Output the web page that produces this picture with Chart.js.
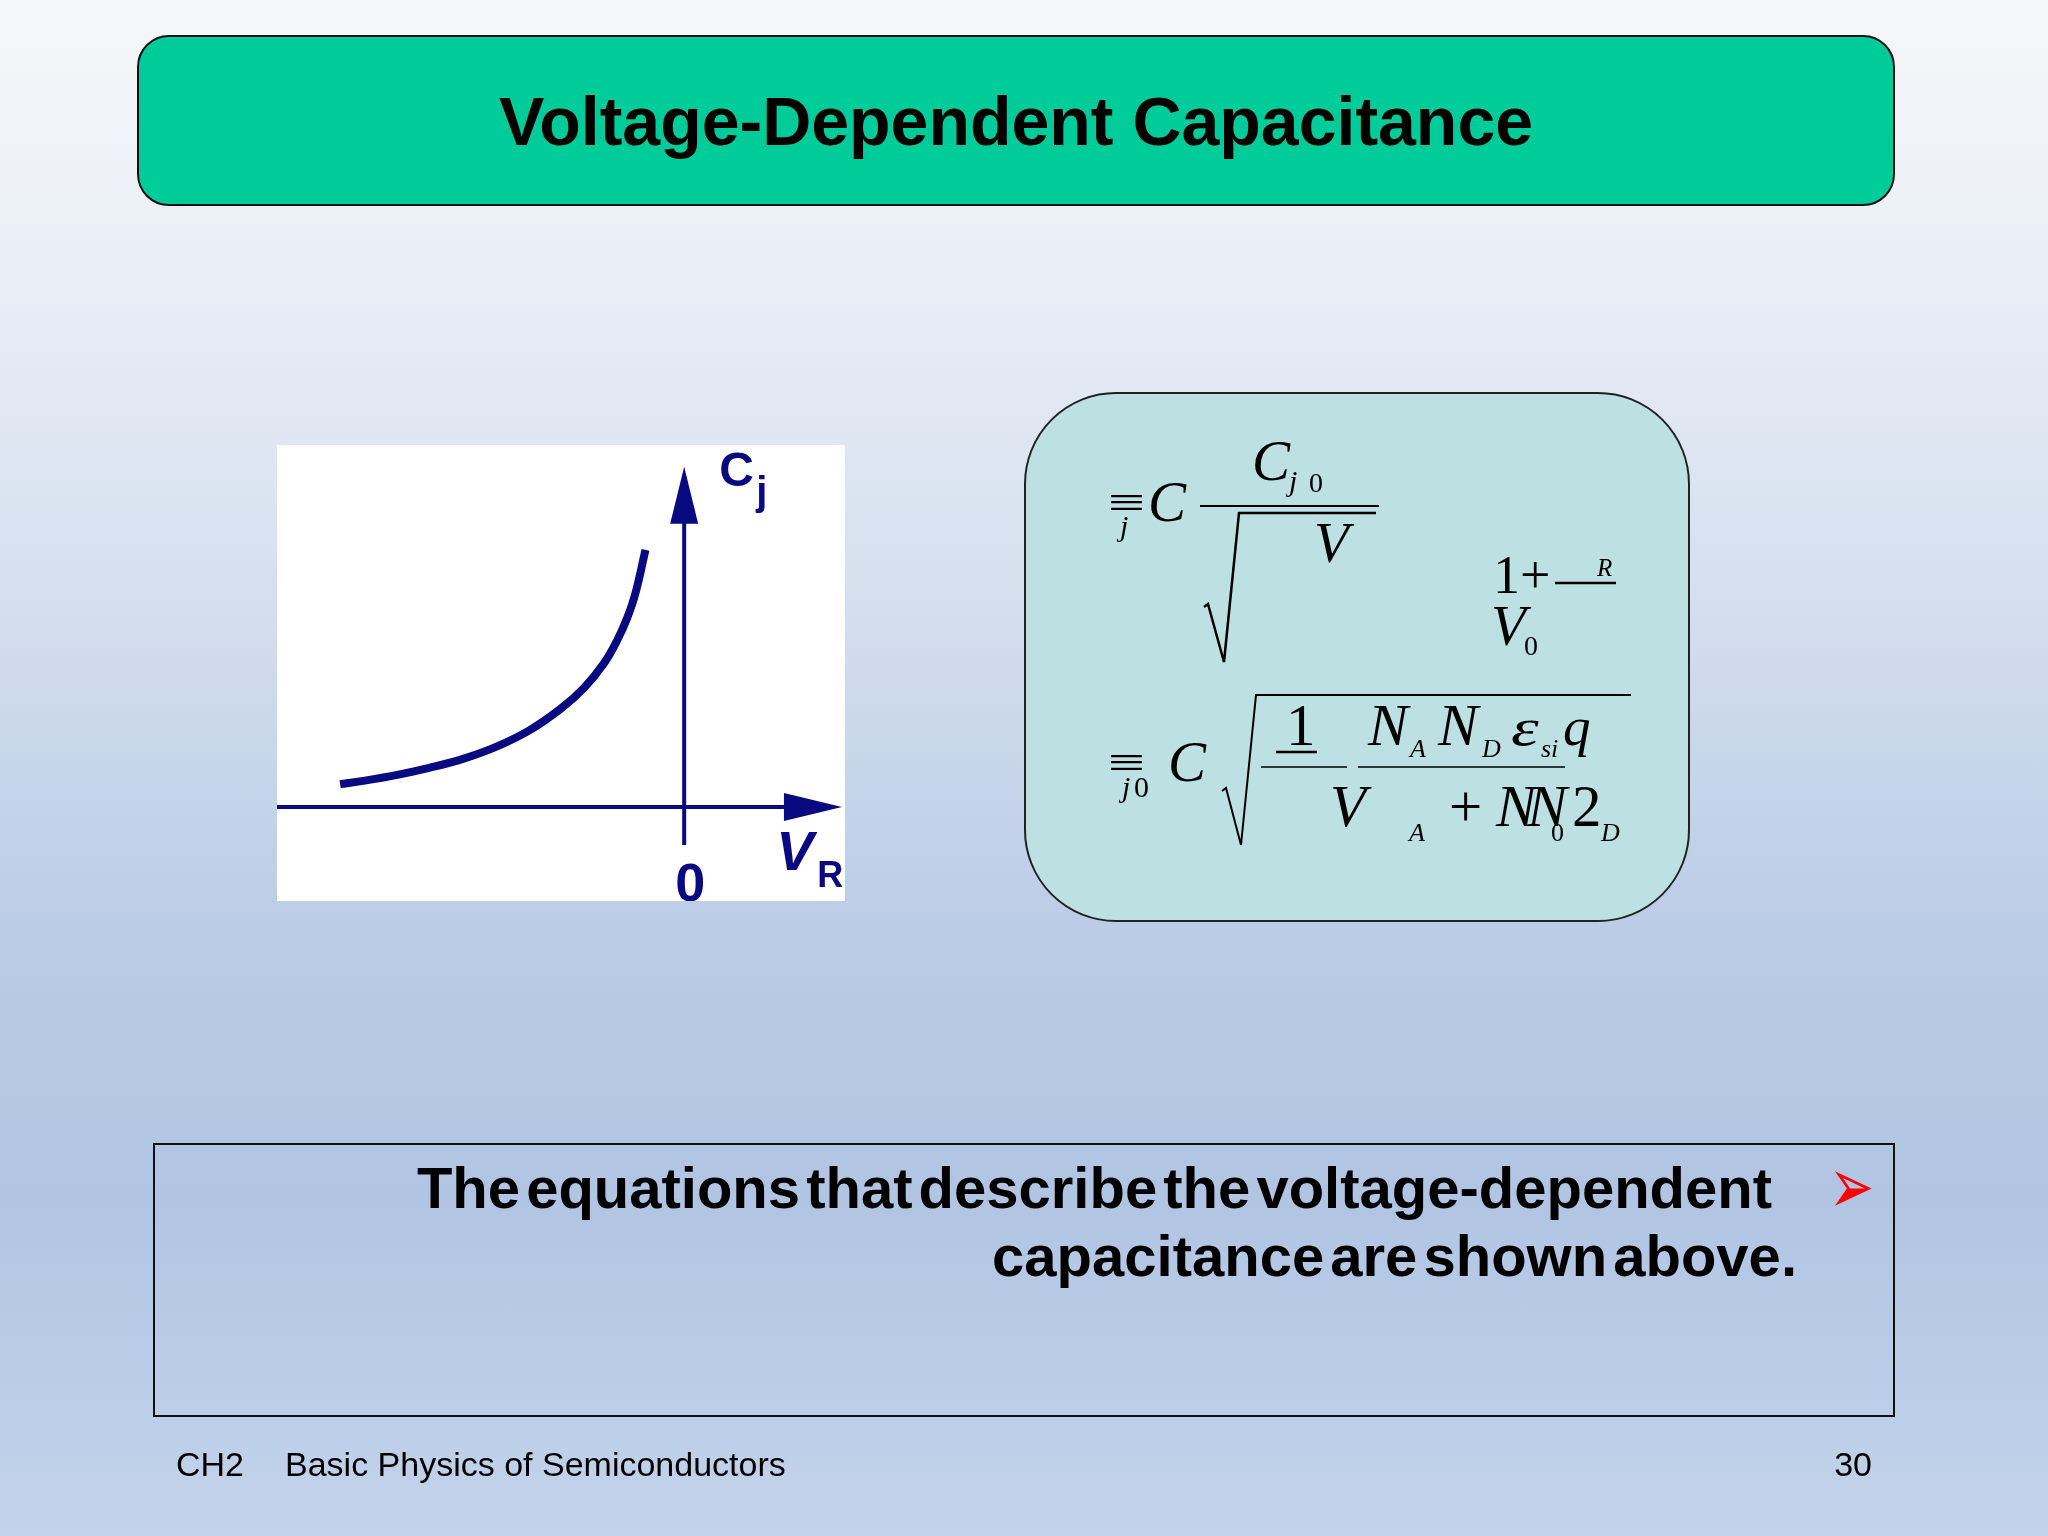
<!DOCTYPE html>
<html>
<head>
<meta charset="utf-8">
<script src="https://cdn.jsdelivr.net/npm/chart.js@4.4.0/dist/chart.umd.min.js"></script>
<style>
  html, body { margin: 0; padding: 0; }
  body {
    width: 2048px; height: 1536px; position: relative; overflow: hidden;
    background: linear-gradient(180deg, #f6f7fa 0%, #e9eef6 18%, #d3deee 40%, #b9cbe5 62%, #b1c5e3 78%, #c3d3eb 100%);
    font-family: "Liberation Sans", Arial, sans-serif;
  }
  .title {
    position: absolute; left: 137px; top: 35px; width: 1758px; height: 171px;
    background: #00cc99; border: 2.5px solid #111; border-radius: 32px;
    box-sizing: border-box;
    font-weight: bold; font-size: 68px; color: #000;
    text-align: center; line-height: 168px;
  }
  .formulaBox {
    position: absolute; left: 1024px; top: 392px; width: 666px; height: 530px;
    background: #bde0e3; border: 2px solid #222; border-radius: 92px; box-sizing: border-box;
  }
  .noteBox {
    position: absolute; left: 153px; top: 1143px; width: 1742px; height: 274px;
    border: 2.5px solid #111; box-sizing: border-box;
  }
  .chartWrap { position: absolute; left: 277px; top: 445px; width: 568px; height: 456px; background: #fff; }
  svg.overlay { position: absolute; left: 0; top: 0; }
</style>
</head>
<body>
<div class="title">Voltage-Dependent Capacitance</div>
<div class="formulaBox"></div>
<div class="noteBox"></div>
<div class="chartWrap"><canvas id="cjChart" width="568" height="456"></canvas></div>

<svg class="overlay" width="2048" height="1536" xmlns="http://www.w3.org/2000/svg">
  <g font-family="'Liberation Serif', 'Times New Roman', serif" fill="#000">
    <!-- first equation -->
    <text x="1108" y="517" font-size="44" transform="translate(1108 0) scale(1.5 1) translate(-1108 0)">≡</text>
    <text x="1120" y="536" font-size="30" font-style="italic">j</text>
    <text x="1148" y="521" font-size="57" font-style="italic">C</text>
    <text x="1252" y="480" font-size="57" font-style="italic">C</text>
    <text x="1289" y="491" font-size="30" font-style="italic">j</text>
    <text x="1309" y="492" font-size="28">0</text>
    <line x1="1200" y1="506" x2="1379" y2="506" stroke="#000" stroke-width="2"/>
    <polyline points="1204,607 1208,604 1224,662 1239,513 1376,513" fill="none" stroke="#000" stroke-width="2.5"/>
    <text x="1314" y="562" font-size="57" font-style="italic">V</text>
    <text x="1493" y="593" font-size="54">1+</text>
    <line x1="1555" y1="583" x2="1616" y2="583" stroke="#000" stroke-width="2.5"/>
    <text x="1597" y="576" font-size="25" font-style="italic">R</text>
    <text x="1491" y="645" font-size="57" font-style="italic">V</text>
    <text x="1524" y="655" font-size="28">0</text>

    <!-- second equation -->
    <text x="1108" y="777" font-size="44" transform="translate(1108 0) scale(1.5 1) translate(-1108 0)">≡</text>
    <text x="1122" y="797" font-size="30" font-style="italic">j</text>
    <text x="1134" y="797" font-size="30">0</text>
    <text x="1168" y="781" font-size="57" font-style="italic">C</text>
    <polyline points="1222,791 1226,788 1241,845 1256,695 1631,695" fill="none" stroke="#000" stroke-width="2"/>
    <text x="1286" y="745" font-size="59">1</text>
    <line x1="1276" y1="752" x2="1317" y2="752" stroke="#000" stroke-width="2.5"/>
    <line x1="1261" y1="767" x2="1347" y2="767" stroke="#000" stroke-width="1.5"/>
    <text x="1368" y="745" font-size="60" font-style="italic">N</text>
    <text x="1410" y="757" font-size="26" font-style="italic">A</text>
    <text x="1438" y="745" font-size="60" font-style="italic">N</text>
    <text x="1482" y="757" font-size="26" font-style="italic">D</text>
    <text x="1511" y="745" font-size="52" font-style="italic" transform="translate(1511 0) scale(1.35 1) translate(-1511 0)">ε</text>
    <text x="1541" y="757" font-size="26" font-style="italic">si</text>
    <text x="1563" y="745" font-size="55" font-style="italic">q</text>
    <line x1="1358" y1="767" x2="1565" y2="767" stroke="#000" stroke-width="1.5"/>
    <text x="1330" y="826" font-size="59" font-style="italic">V</text>
    <text x="1409" y="841" font-size="26" font-style="italic">A</text>
    <text x="1449" y="826" font-size="59">+</text>
    <text x="1496" y="826" font-size="60" font-style="italic">N</text>
    <text x="1527" y="826" font-size="60" font-style="italic">N</text>
    <text x="1551" y="841" font-size="26">0</text>
    <text x="1572" y="826" font-size="59">2</text>
    <text x="1601" y="841" font-size="26" font-style="italic">D</text>
  </g>

  <g font-family="'Liberation Sans', Arial, sans-serif" font-weight="bold" font-size="58" fill="#000" text-anchor="end" word-spacing="-10">
    <text x="1772" y="1208">The equations that describe the voltage-dependent</text>
    <text x="1797" y="1276">capacitance are shown above.</text>
  </g>
  <text x="1829" y="1213" font-family="'DejaVu Sans', sans-serif" font-size="54" fill="#ff0000"
        transform="translate(0 1213) scale(1 1.45) translate(0 -1213)">➢</text>

  <g font-family="'Liberation Sans', Arial, sans-serif" font-size="34" fill="#000">
    <text x="176" y="1476">CH2</text>
    <text x="285" y="1476">Basic Physics of Semiconductors</text>
    <text x="1872" y="1476" text-anchor="end">30</text>
  </g>
</svg>

<script>
// Curve: reverse voltage (left of 0) vs junction capacitance
const vrValues = [-6.76, -6.31, -5.66, -5.01, -4.36, -3.71, -3.06, -2.42, -1.96, -1.57, -1.32, -1.12, -0.96, -0.76];
const cjValues = [0.63, 0.72, 0.88, 1.08, 1.32, 1.65, 2.10, 2.72, 3.30, 3.98, 4.59, 5.22, 5.89, 7.10];

// Axis extents (data units)
const xRange = [-8, 3.16];
const yRange = [-2.6, 10];
const axisX = { from: -8, to: 3.1 };
const axisY = { from: -1.05, to: 9.4 };

const ink = '#0a0a80';

// Draws the two arrowed axes and their labels on top of the plot
const axesArrows = {
    id: 'axesArrows',
    afterDatasetsDraw(chart) {
        const { ctx, scales: { x, y } } = chart;
        const x0 = x.getPixelForValue(0);
        const y0 = y.getPixelForValue(0);
        ctx.save();
        ctx.strokeStyle = ink;
        ctx.fillStyle = ink;
        ctx.lineWidth = 4;

        // horizontal axis
        const xr = x.getPixelForValue(axisX.to);
        ctx.beginPath();
        ctx.moveTo(x.getPixelForValue(axisX.from), y0);
        ctx.lineTo(xr - 40, y0);
        ctx.stroke();
        ctx.beginPath();
        ctx.moveTo(xr, y0);
        ctx.lineTo(xr - 58, y0 - 14);
        ctx.lineTo(xr - 58, y0 + 14);
        ctx.closePath();
        ctx.fill();

        // vertical axis
        const yt = y.getPixelForValue(axisY.to);
        ctx.beginPath();
        ctx.moveTo(x0, y.getPixelForValue(axisY.from));
        ctx.lineTo(x0, yt + 40);
        ctx.stroke();
        ctx.beginPath();
        ctx.moveTo(x0, yt);
        ctx.lineTo(x0 - 14, yt + 57);
        ctx.lineTo(x0 + 14, yt + 57);
        ctx.closePath();
        ctx.fill();

        // labels
        ctx.textBaseline = 'alphabetic';
        ctx.font = 'bold 48px "Liberation Sans", Arial, sans-serif';
        ctx.fillText('C', x0 + 35, yt + 19);
        ctx.font = 'bold 40px "Liberation Sans", Arial, sans-serif';
        ctx.fillText('j', x0 + 72, yt + 38);
        ctx.font = 'bold 54px "Liberation Sans", Arial, sans-serif';
        ctx.textAlign = 'center';
        ctx.fillText('0', x0 + 6, y0 + 94);
        ctx.textAlign = 'left';
        ctx.font = 'italic bold 56px "Liberation Sans", Arial, sans-serif';
        ctx.fillText('V', x0 + 92, y0 + 63);
        ctx.font = 'bold 36px "Liberation Sans", Arial, sans-serif';
        ctx.fillText('R', x0 + 133, y0 + 80);
        ctx.restore();
    }
};

const ctx = document.getElementById('cjChart').getContext('2d');
new Chart(ctx, {
    type: 'scatter',
    data: {
        datasets: [{
            label: 'Cj',
            data: vrValues.map((v, i) => ({ x: v, y: cjValues[i] })),
            showLine: true,
            borderColor: ink,
            borderWidth: 8,
            borderCapStyle: 'butt',
            borderJoinStyle: 'round',
            pointRadius: 0,
            tension: 0.4,
            fill: false,
            clip: false
        }]
    },
    options: {
        responsive: false,
        animation: false,
        devicePixelRatio: 1,
        layout: { padding: 0 },
        plugins: {
            legend: { display: false },
            tooltip: { enabled: false }
        },
        scales: {
            x: { type: 'linear', min: xRange[0], max: xRange[1], display: false },
            y: { type: 'linear', min: yRange[0], max: yRange[1], display: false }
        }
    },
    plugins: [axesArrows]
});
</script>
</body>
</html>
